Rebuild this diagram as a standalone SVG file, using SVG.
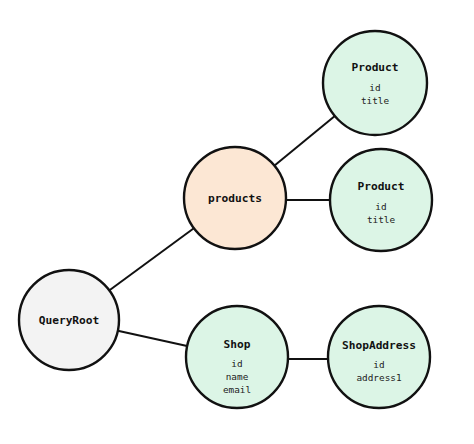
<svg xmlns="http://www.w3.org/2000/svg" width="474" height="444" viewBox="0 0 474 444">
<style>
.n{stroke:#111;stroke-width:2.4}
.g{fill:#dcf5e6}
.o{fill:#fce7d4}
.w{fill:#f3f3f3}
.t{font-family:"DejaVu Sans Mono",monospace;font-weight:bold;font-size:11.2px;fill:#111;text-anchor:middle;dominant-baseline:central}
.f{font-family:"DejaVu Sans Mono",monospace;font-size:9.4px;fill:#222;text-anchor:middle;dominant-baseline:central}
.e{stroke:#111;stroke-width:2;fill:none}
</style>
<rect width="474" height="444" fill="#fff"/>
<g id="connectors">
<line class="e" x1="69" y1="320" x2="235" y2="198"/>
<line class="e" x1="69" y1="320" x2="237" y2="357"/>
<line class="e" x1="235" y1="198" x2="375" y2="83"/>
<line class="e" x1="235" y1="200" x2="381" y2="200"/>
<line class="e" x1="237" y1="359" x2="379" y2="359"/>
</g>
<g id="product1">
<circle class="n g" cx="375" cy="83" r="52"/>
<text class="t" x="375" y="67">Product</text>
<text class="f" x="375" y="87">id</text>
<text class="f" x="375" y="100">title</text>
</g>
<g id="product2">
<circle class="n g" cx="381" cy="200" r="51"/>
<text class="t" x="381" y="186">Product</text>
<text class="f" x="381" y="206">id</text>
<text class="f" x="381" y="219">title</text>
</g>
<g id="products">
<circle class="n o" cx="235" cy="198" r="51"/>
<text class="t" x="235" y="198">products</text>
</g>
<g id="queryroot">
<circle class="n w" cx="69" cy="320" r="50"/>
<text class="t" x="69" y="320">QueryRoot</text>
</g>
<g id="shop">
<circle class="n g" cx="237" cy="357" r="51"/>
<text class="t" x="237" y="344">Shop</text>
<text class="f" x="237" y="363">id</text>
<text class="f" x="237" y="376">name</text>
<text class="f" x="237" y="389">email</text>
</g>
<g id="shopaddress">
<circle class="n g" cx="379" cy="357" r="51"/>
<text class="t" x="379" y="345">ShopAddress</text>
<text class="f" x="379" y="364">id</text>
<text class="f" x="379" y="377">address1</text>
</g>
</svg>
